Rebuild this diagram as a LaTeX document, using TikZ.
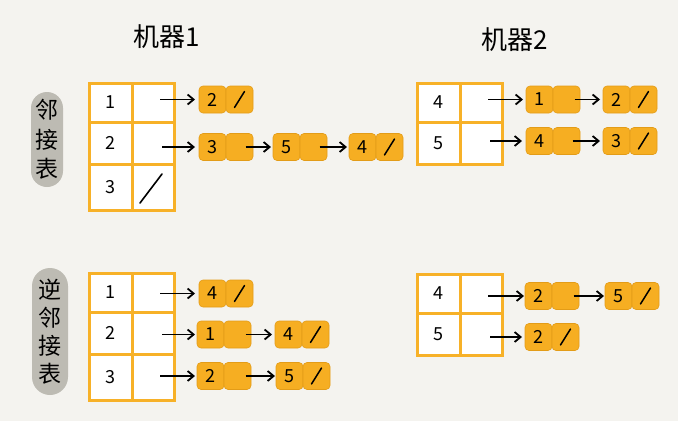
\documentclass[tikz,border=0pt]{standalone}
\usepackage{fontspec}
\newfontfamily\cjk{Noto Sans CJK SC}
\usetikzlibrary{arrows.meta,calc,positioning}
\definecolor{paper}{HTML}{F4F3EF}
\definecolor{tableLine}{HTML}{F7B128}
\definecolor{itemFill}{HTML}{F6AE22}
\definecolor{itemLine}{HTML}{E39C18}
\definecolor{pillGray}{HTML}{BDBBB3}
\tikzset{
    cell/.style = {draw=tableLine, rectangle, line width=3pt,
        fill=white, inner sep=0pt, outer sep=0pt,
        font=\cjk\fontsize{18}{18}\selectfont},
    keyCell/.style = {cell, minimum width=43pt},
    ptrCell/.style = {cell, minimum width=42pt},
    nullCell/.style = {ptrCell, path picture={
        \draw [black, line width=1.6pt, line cap=round]
            ([shift={(-13pt,-16pt)}]path picture bounding box.center) --
            ([shift={(9pt,13pt)}]path picture bounding box.center);}},
    rowA/.style = {minimum height=39pt},
    rowB/.style = {minimum height=42pt},
    rowC/.style = {minimum height=46pt},
    item/.style = {draw=itemLine, fill=itemFill, rectangle,
        rounded corners=4pt, line width=0.6pt,
        minimum width=27pt, minimum height=27pt,
        inner sep=0pt, outer sep=0pt,
        font=\cjk\fontsize{18}{18}\selectfont},
    nullItem/.style = {item, path picture={
        \draw [black, line width=1.5pt, line cap=round]
            ([shift={(-5pt,-8pt)}]path picture bounding box.center) --
            ([shift={(5pt,8pt)}]path picture bounding box.center);}},
    pill/.style = {fill=pillGray, rectangle, inner sep=0pt, align=center},
    title/.style = {font=\cjk\fontsize{26}{26}\selectfont},
    link/.style = {-{Straight Barb[length=6pt,width=10pt]}, line width=1.8pt},
}

\begin{document}
\begin{tikzpicture}[x=1pt, y=-1pt]
	\useasboundingbox (0,0) rectangle (678,421);
	\fill [paper] (0,0) rectangle (678,421);

	% titles
	\node [title, name=title1] at (167,37) {机器1};
	\node [title, name=title2] at (515,40) {机器2};

	% row labels
	\node [pill, rounded corners=16pt, minimum width=32pt, minimum height=95pt,
		font=\cjk\fontsize{23}{29.5}\selectfont, name=adjLabel] at (47,139.5) {邻\\接\\表};
	\node [pill, rounded corners=18pt, minimum width=36pt, minimum height=127pt,
		font=\cjk\fontsize{23}{28}\selectfont, name=invLabel] at (50,331.5) {逆\\邻\\接\\表};

	% adjacency table, machine 1
	\node [keyCell, rowA, anchor=north west, name=adj1K1] at (89,83) {1};
	\node [ptrCell, rowA, right=0pt of adj1K1, name=adj1P1] {};
	\node [keyCell, rowB, below=0pt of adj1K1, name=adj1K2] {2};
	\node [ptrCell, rowB, right=0pt of adj1K2, name=adj1P2] {};
	\node [keyCell, rowC, below=0pt of adj1K2, name=adj1K3] {3};
	\node [nullCell, rowC, right=0pt of adj1K3, name=adj1P3] {};

	% adjacency lists, machine 1
	\node [item, anchor=west, name=adj1V1] at (199,99.5) {2};
	\node [nullItem, right=0pt of adj1V1, name=adj1N1] {};
	\node [item, anchor=west, name=adj1V2] at (199,147) {3};
	\node [item, right=0pt of adj1V2, name=adj1N2] {};
	\node [item, right=20pt of adj1N2, name=adj1V3] {5};
	\node [item, right=0pt of adj1V3, name=adj1N3] {};
	\node [item, right=22pt of adj1N3, name=adj1V4] {4};
	\node [nullItem, right=0pt of adj1V4, name=adj1N4] {};

	% adjacency table, machine 2
	\node [keyCell, rowA, anchor=north west, name=adj2K1] at (417,83) {4};
	\node [ptrCell, rowA, right=0pt of adj2K1, name=adj2P1] {};
	\node [keyCell, rowB, below=0pt of adj2K1, name=adj2K2] {5};
	\node [ptrCell, rowB, right=0pt of adj2K2, name=adj2P2] {};

	% adjacency lists, machine 2
	\node [item, anchor=west, name=adj2V1] at (526,99.5) {1};
	\node [item, right=0pt of adj2V1, name=adj2N1] {};
	\node [item, right=23pt of adj2N1, name=adj2V2] {2};
	\node [nullItem, right=0pt of adj2V2, name=adj2N2] {};
	\node [item, anchor=west, name=adj2V3] at (526,141) {4};
	\node [item, right=0pt of adj2V3, name=adj2N3] {};
	\node [item, right=23pt of adj2N3, name=adj2V4] {3};
	\node [nullItem, right=0pt of adj2V4, name=adj2N4] {};

	% inverse table, machine 1
	\node [keyCell, rowA, anchor=north west, name=inv1K1] at (89,273) {1};
	\node [ptrCell, rowA, right=0pt of inv1K1, name=inv1P1] {};
	\node [keyCell, rowB, below=0pt of inv1K1, name=inv1K2] {2};
	\node [ptrCell, rowB, right=0pt of inv1K2, name=inv1P2] {};
	\node [keyCell, rowC, below=0pt of inv1K2, name=inv1K3] {3};
	\node [ptrCell, rowC, right=0pt of inv1K3, name=inv1P3] {};

	% inverse lists, machine 1
	\node [item, anchor=west, name=inv1V1] at (199,293.5) {4};
	\node [nullItem, right=0pt of inv1V1, name=inv1N1] {};
	\node [item, anchor=west, name=inv1V2] at (197,334.5) {1};
	\node [item, right=0pt of inv1V2, name=inv1N2] {};
	\node [item, right=24pt of inv1N2, name=inv1V3] {4};
	\node [nullItem, right=0pt of inv1V3, name=inv1N3] {};
	\node [item, anchor=west, name=inv1V4] at (197,376) {2};
	\node [item, right=0pt of inv1V4, name=inv1N4] {};
	\node [item, right=25pt of inv1N4, name=inv1V5] {5};
	\node [nullItem, right=0pt of inv1V5, name=inv1N5] {};

	% inverse table, machine 2
	\node [keyCell, rowA, anchor=north west, name=inv2K1] at (417,274) {4};
	\node [ptrCell, rowA, right=0pt of inv2K1, name=inv2P1] {};
	\node [keyCell, rowB, below=0pt of inv2K1, name=inv2K2] {5};
	\node [ptrCell, rowB, right=0pt of inv2K2, name=inv2P2] {};

	% inverse lists, machine 2
	\node [item, anchor=west, name=inv2V1] at (525,296) {2};
	\node [item, right=0pt of inv2V1, name=inv2N1] {};
	\node [item, right=26pt of inv2N1, name=inv2V2] {5};
	\node [nullItem, right=0pt of inv2V2, name=inv2N2] {};
	\node [item, anchor=west, name=inv2V3] at (525,337) {2};
	\node [nullItem, right=0pt of inv2V3, name=inv2N3] {};

	%%lines
	\draw [link, shorten >=4pt] ($(adj1P1.center |- adj1V1.west)+(7pt,0)$) -- (adj1V1.west);
	\draw [link, shorten >=4pt] ($(adj1P2.center |- adj1V2.west)+(9pt,0)$) -- (adj1V2.west);
	\draw [link, shorten >=2pt] ($(adj1N2.center)+(6pt,0)$) -- (adj1V3.west);
	\draw [link, shorten >=2pt] ($(adj1N3.center)+(6pt,0)$) -- (adj1V4.west);
	\draw [link, shorten >=3pt] ($(adj2P1.center |- adj2V1.west)+(7pt,0)$) -- (adj2V1.west);
	\draw [link, shorten >=4pt] ($(adj2P2.center |- adj2V3.west)+(9pt,0)$) -- (adj2V3.west);
	\draw [link, shorten >=3pt] ($(adj2N1.center)+(8pt,0)$) -- (adj2V2.west);
	\draw [link, shorten >=3pt] ($(adj2N3.center)+(6pt,0)$) -- (adj2V4.west);
	\draw [link, shorten >=4pt] ($(inv1P1.center |- inv1V1.west)+(7pt,0)$) -- (inv1V1.west);
	\draw [link, shorten >=2pt] ($(inv1P2.center |- inv1V2.west)+(9pt,0)$) -- (inv1V2.west);
	\draw [link, shorten >=2pt] ($(inv1P3.center |- inv1V4.west)+(7pt,0)$) -- (inv1V4.west);
	\draw [link, shorten >=3pt] ($(inv1N2.center)+(8pt,0)$) -- (inv1V3.west);
	\draw [link, shorten >=1pt] ($(inv1N4.center)+(8pt,0)$) -- (inv1V5.west);
	\draw [link, shorten >=1pt] ($(inv2P1.center |- inv2V1.west)+(7pt,0)$) -- (inv2V1.west);
	\draw [link, shorten >=3pt] ($(inv2P2.center |- inv2V3.west)+(9pt,0)$) -- (inv2V3.west);
	\draw [link, shorten >=1pt] ($(inv2N1.center)+(8pt,0)$) -- (inv2V2.west);
\end{tikzpicture}
\end{document}
